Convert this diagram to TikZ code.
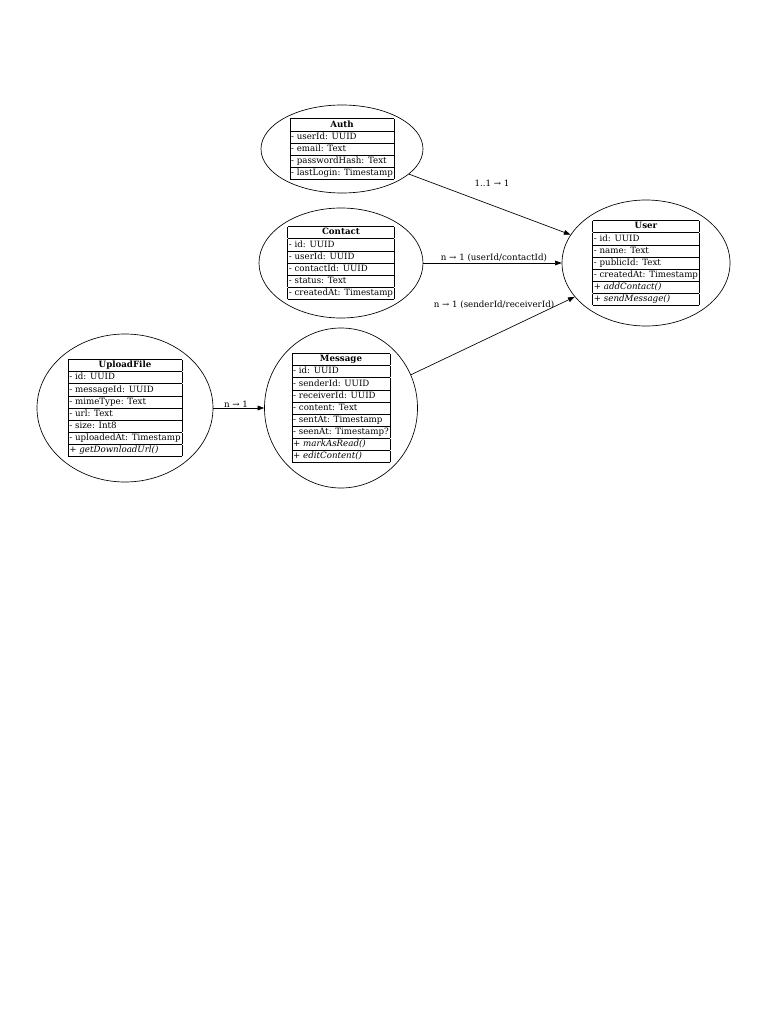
\documentclass[tikz,border=0pt]{standalone}
\usepackage{fontspec}
\setmainfont{DejaVu Serif}
\usetikzlibrary{shapes.geometric,arrows.meta}
\setlength{\tabcolsep}{1pt}
\begin{document}
\begin{tikzpicture}[x=0.75pt, y=-0.75pt, font=\fontsize{6.5}{8.7}\selectfont,
    entity/.style={ellipse, draw, inner sep=0pt, line width=0.5pt},
    rel/.style={-{Triangle[length=5pt, width=3.6pt]}, line width=0.5pt}]
  \useasboundingbox (0,0) rectangle (768,1024);

  \node[entity, minimum width=121.5pt, minimum height=66pt] (auth) at (342,149) {%
    \begin{tabular}{|l|}\hline
      \multicolumn{1}{|c|}{\textbf{Auth}}\\\hline
      - userId: UUID\\\hline
      - email: Text\\\hline
      - passwordHash: Text\\\hline
      - lastLogin: Timestamp\\\hline
    \end{tabular}};
  \node[entity, minimum width=123pt, minimum height=82.5pt] (contact) at (341,263) {%
    \begin{tabular}{|l|}\hline
      \multicolumn{1}{|c|}{\textbf{Contact}}\\\hline
      - id: UUID\\\hline
      - userId: UUID\\\hline
      - contactId: UUID\\\hline
      - status: Text\\\hline
      - createdAt: Timestamp\\\hline
    \end{tabular}};
  \node[entity, minimum width=126pt, minimum height=94.5pt] (user) at (646,263) {%
    \begin{tabular}{|l|}\hline
      \multicolumn{1}{|c|}{\textbf{User}}\\\hline
      - id: UUID\\\hline
      - name: Text\\\hline
      - publicId: Text\\\hline
      - createdAt: Timestamp\\\hline
      \textit{+ addContact()}\\\hline
      \textit{+ sendMessage()}\\\hline
    \end{tabular}};
  \node[entity, minimum width=132pt, minimum height=111pt] (upload) at (125,408) {%
    \begin{tabular}{|l|}\hline
      \multicolumn{1}{|c|}{\textbf{UploadFile}}\\\hline
      - id: UUID\\\hline
      - messageId: UUID\\\hline
      - mimeType: Text\\\hline
      - url: Text\\\hline
      - size: Int8\\\hline
      - uploadedAt: Timestamp\\\hline
      \textit{+ getDownloadUrl()}\\\hline
    \end{tabular}};
  \node[entity, minimum width=114.75pt, minimum height=120pt] (message) at (341,408) {%
    \begin{tabular}{|l|}\hline
      \multicolumn{1}{|c|}{\textbf{Message}}\\\hline
      - id: UUID\\\hline
      - senderId: UUID\\\hline
      - receiverId: UUID\\\hline
      - content: Text\\\hline
      - sentAt: Timestamp\\\hline
      - seenAt: Timestamp?\\\hline
      \textit{+ markAsRead()}\\\hline
      \textit{+ editContent()}\\\hline
    \end{tabular}};

  \path[rel] (auth) edge (user);
  \path[rel] (contact) edge (user);
  \path[rel] (message) edge (user);
  \path[rel] (upload) edge (message);

  \node (authlbl) at (492,183) {1..1 → 1};
  \node (contactlbl) at (494,258) {n → 1 (userId/contactId)};
  \node (messagelbl) at (494,305) {n → 1 (senderId/receiverId)};
  \node (uploadlbl) at (236,404) {n → 1};
\end{tikzpicture}
\end{document}
